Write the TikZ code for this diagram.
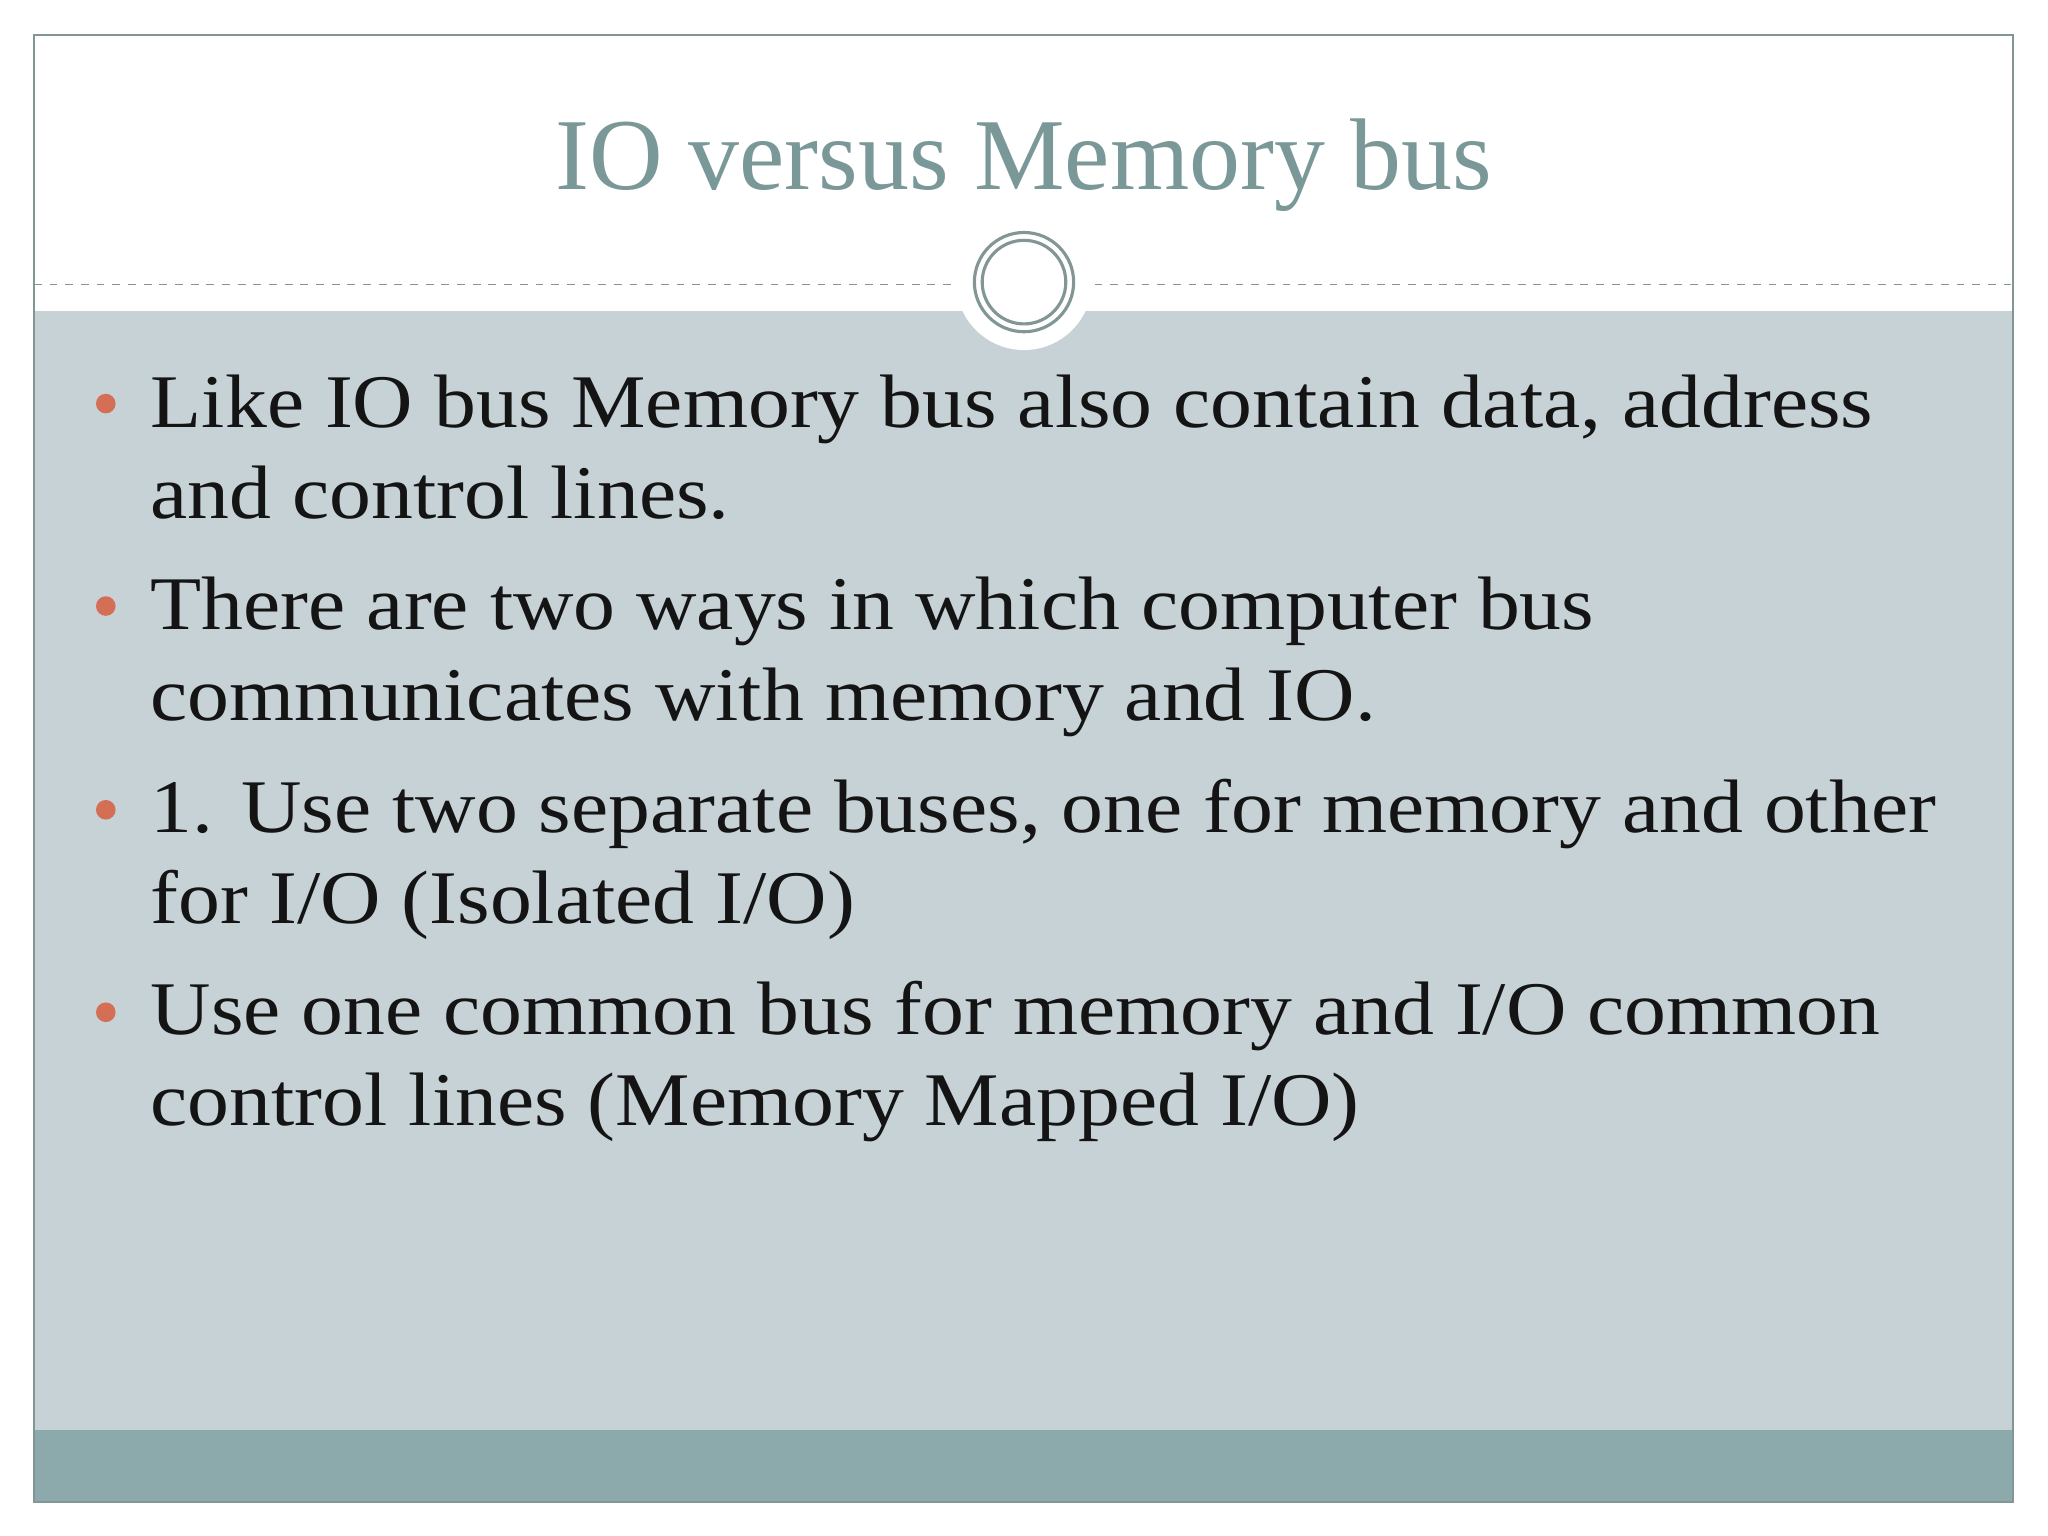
\documentclass[tikz,border=0pt]{standalone}
\usepackage{fontspec}
\setmainfont{Liberation Serif}
\newfontfamily\bodyfont[FakeStretch=1.105]{Liberation Serif}
\definecolor{titlec}{RGB}{122,152,152}
\definecolor{bodyc}{RGB}{198,210,214}
\definecolor{bandc}{RGB}{140,170,172}
\definecolor{framec}{RGB}{130,150,150}
\definecolor{bulc}{RGB}{212,110,85}
\definecolor{txtc}{RGB}{20,20,20}
\begin{document}
\begin{tikzpicture}[x=0.5pt,y=-0.5pt,
  line/.style={anchor=base west,inner sep=0pt,font=\bodyfont\fontsize{29}{34}\selectfont,text=txtc},
  bul/.style={circle,fill=bulc,inner sep=0pt,minimum size=7.5pt}]
\useasboundingbox (0,0) rectangle (1568,1176);
\fill[white] (0,0) rectangle (1568,1176);
\fill[bodyc] (26,238) rectangle (1541,1095);
\fill[bandc] (26,1095) rectangle (1541,1150);
\draw[framec,line width=0.6pt] (26,27) rectangle (1541,1150);
\draw[framec,dashed,line width=0.4pt] (26,218) -- (730,218);
\draw[framec,dashed,line width=0.4pt] (838,218) -- (1541,218);
\fill[white] (784,216) circle (52);
\draw[framec,line width=1.2pt] (784,216) circle (38);
\draw[framec,line width=1.2pt] (784,216) circle (32);
\node[anchor=base,text=titlec,font=\fontsize{39}{46}\selectfont] (title) at (784,145) {IO versus Memory bus};
\node[bul] (b1) at (81,309) {};
\node[bul] (b2) at (81,464) {};
\node[bul] (b3) at (81,620) {};
\node[bul] (b4) at (81,775) {};
\node[line] (l1) at (115,327) {Like IO bus Memory bus also contain data, address};
\node[line] (l2) at (115,397) {and control lines.};
\node[line] (l3) at (115,482) {There are two ways in which computer bus};
\node[line] (l4) at (115,552) {communicates with memory and IO.};
\node[line] (l5) at (115,637) {1. Use two separate buses, one for memory and other};
\node[line] (l6) at (115,707) {for I/O (Isolated I/O)};
\node[line] (l7) at (115,792) {Use one common bus for memory and I/O common};
\node[line] (l8) at (115,862) {control lines (Memory Mapped I/O)};
\end{tikzpicture}
\end{document}
